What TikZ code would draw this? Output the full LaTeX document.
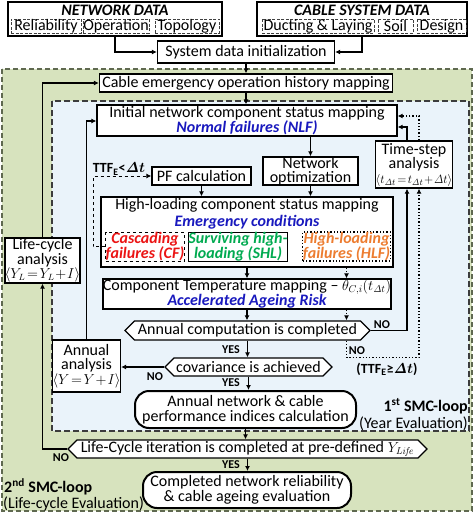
\documentclass[tikz,border=0pt]{standalone}
\usepackage{bm}
\usepackage[no-math]{fontspec}
\setmainfont{Carlito}
\usetikzlibrary{arrows.meta,shapes.symbols,calc}
\definecolor{greenbg}{RGB}{215,227,190}
\definecolor{greenln}{RGB}{95,105,80}
\definecolor{bluebg}{RGB}{234,243,250}
\definecolor{blueln}{RGB}{60,60,60}
\definecolor{nblue}{RGB}{25,25,190}
\definecolor{nred}{RGB}{235,20,20}
\definecolor{ngreen}{RGB}{0,170,80}
\definecolor{norange}{RGB}{237,125,49}
\newcommand\mainfs{\fontsize{16}{14.5}\selectfont}
\newcommand\lblfs{\fontsize{12}{12}\selectfont}
\newcommand\ttffs{\fontsize{14}{14}\selectfont}
\newcommand\mfs[1]{\fontsize{#1}{14}\selectfont}
\newcommand\dt{\mathit{\Delta} t}
\begin{document}
\begin{tikzpicture}[x=1pt,y=-1pt,font=\mainfs,
  box/.style={draw,line width=1.3pt,fill=white,inner sep=0pt,align=center},
  rbox/.style={draw,line width=2pt,fill=white,inner sep=0pt,align=center,rounded corners=14pt},
  sub/.style={draw,line width=0.7pt,inner sep=0pt,dash pattern=on 3pt off 1.5pt,draw=black!75},
  dec/.style={signal,signal to=east and west,signal pointer angle=90,draw,line width=1.3pt,fill=white,inner sep=0pt},
  arr/.style={line width=1.3pt,-{Latex[length=5pt,width=5pt]}},
  lbl/.style={font=\lblfs\bfseries,inner sep=0pt},
  hl/.style={font=\mainfs\bfseries\itshape}]
\useasboundingbox (0,0) rectangle (474,513);
% regions
\draw[fill=greenbg,draw=greenln,line width=1.5pt,dash pattern=on 5pt off 3pt] (2,69) rectangle (472,511);
\draw[fill=bluebg,draw=blueln,line width=1.2pt,dash pattern=on 6pt off 3pt] (52,101) rectangle (469,431);
% data boxes
\node[box,minimum width=214pt,minimum height=34pt] (nd) at (115,19) {};
\node[hl,inner sep=0pt] (ndt) at (115,10) {NETWORK DATA};
\node[sub,minimum width=70pt,minimum height=14pt] (rel) at (46,26) {Reliability};
\node[sub,minimum width=66pt,minimum height=14pt] (op) at (116,26) {Operation};
\node[sub,minimum width=64pt,minimum height=14pt] (topo) at (187,26) {Topology};
\node[box,minimum width=210pt,minimum height=34pt] (cd) at (362,19) {};
\node[hl,inner sep=0pt] (cdt) at (362,10) {CABLE SYSTEM DATA};
\node[sub,minimum width=112pt,minimum height=14pt] (duct) at (318,26) {Ducting \& Laying};
\node[sub,minimum width=35pt,minimum height=14pt] (soil) at (395.5,26) {Soil};
\node[sub,minimum width=49pt,minimum height=14pt] (des) at (441.5,26) {Design};
% main chain
\node[box,minimum width=177pt,minimum height=22pt] (si) at (246,52) {System data initialization};
\node[box,minimum width=293pt,minimum height=18pt] (ce) at (246,83) {Cable emergency operation history mapping};
\node[box,minimum width=300pt,minimum height=31pt] (init) at (247,120.5) {Initial network component status mapping\\[-0.5pt]{\bfseries\itshape\color{nblue}Normal failures (NLF)}};
\node[box,minimum width=95pt,minimum height=28pt] (no) at (310.5,171) {Network\\optimization};
\node[box,minimum width=99pt,minimum height=18pt] (pf) at (201.5,176) {PF calculation};
\node[box,minimum width=292pt,minimum height=70pt] (hl) at (247,232) {};
\node[inner sep=0pt] (hlt) at (247,205) {High-loading component status mapping};
\node[hl,inner sep=0pt,text=nblue] (hle) at (247,222) {Emergency conditions};
\node[box,dashed,line width=1pt,minimum width=76pt,minimum height=29pt,text=nred,font=\mainfs\bfseries\itshape] (cf) at (145,246.5) {Cascading\\[-1pt]failures (CF)};
\node[box,line width=1pt,minimum width=92pt,minimum height=29pt,text=ngreen,font=\mainfs\bfseries\itshape] (shl) at (238,246.5) {Surviving high-\\[-1pt]loading (SHL)};
\node[box,dotted,line width=1.2pt,minimum width=83pt,minimum height=29pt,text=norange,font=\mainfs\bfseries\itshape] (hlf) at (346.5,246.5) {High-loading\\[-1pt]failures (HLF)};
\node[box,minimum width=288pt,minimum height=30pt] (comp) at (247,294) {Component Temperature mapping -- {\mfs{14.5}$\theta_{C,i}(t_{\dt})$}\\[-1pt]{\bfseries\itshape\color{nblue}Accelerated Ageing Risk}};
\node[dec,minimum width=245pt,minimum height=19pt] (ac) at (247.5,330.5) {Annual computation is completed};
\node[dec,minimum width=167pt,minimum height=18pt] (cov) at (248.5,367) {covariance is achieved};
\node[rbox,minimum width=221pt,minimum height=37pt] (an) at (245.5,409.5) {Annual network \& cable\\performance indices calculation};
\node[dec,minimum width=359pt,minimum height=18pt] (lc) at (247.5,449) {Life-Cycle iteration is completed at pre-defined {\mfs{14}$Y_{\mathit{Life}}$}};
\node[rbox,minimum width=208pt,minimum height=36pt] (c2) at (247,490) {Completed network reliability\\\& cable ageing evaluation};
\node[box,minimum width=75pt,minimum height=45pt] (lca) at (42.5,260.5) {Life-cycle\\analysis\\{\mfs{13.5}$\langle Y_L\!=\!Y_L\!+\!I\rangle$}};
\node[box,minimum width=63pt,minimum height=52pt] (aa) at (86.5,366) {Annual\\analysis\\{\mfs{13.5}$\langle Y\!=\!Y\!+\!I\rangle$}};
\node[box,minimum width=76pt,minimum height=47pt] (ts) at (414,164.5) {Time-step\\analysis\\{\mfs{12.5}$\langle t_{\dt}\!=\!t_{\dt}\!+\!\dt\rangle$}};
% helper coordinates
\coordinate (sx) at (407,0);
\coordinate (dx) at (419,0);
\coordinate (sy) at (0,127);
\coordinate (dy) at (0,116);
\coordinate (iy) at (0,121);
% connectors
\draw[arr] (nd.south) |- (si.west);
\draw[arr] (cd.south) |- (si.east);
\draw[arr] (si.south) -- (si.south |- ce.north);
\draw[arr] (ce.south) -- (ce.south |- init.north);
\draw[arr] (init.south -| no.north) -- (no.north);
\draw[arr] (pf.south) -- (pf.south |- hl.north);
\draw[arr] (no.south) -- (no.south |- hl.north);
\draw[arr] (hl.south) -- (hl.south |- comp.north);
\draw[arr,dotted] (hl.south -| hlf.south) -- (comp.north -| hlf.south);
\draw[arr] (comp.south) -- (comp.south |- ac.north);
\draw[arr,dotted] (comp.south -| hlf.south) -- (ac.north -| hlf.south);
\draw[arr] (ac.south) -- (ac.south |- cov.north);
\draw[arr] (cov.south) -- (cov.south |- an.north);
\draw[arr] (an.south) -- (an.south |- lc.north);
\draw[arr] (lc.south) -- (lc.south |- c2.north);
\draw[arr] (ac.east) -| (ts.south -| sx);
\draw[arr] (ts.north -| sx) |- (init.east |- sy);
\draw[arr,dotted] (ac.south -| hlf.south) -- ++(0,17) -| (ts.south -| dx);
\draw[arr,dotted] (ts.north -| dx) |- (init.east |- dy);
\draw[arr] (cov.west) -- (cov.west -| aa.east);
\draw[arr] (aa.north) |- (init.west |- iy);
\draw[arr] (lc.west) -| (lca.south);
\draw[arr] (lca.north) |- (ce.west);
\draw[arr,dashed,line width=1pt] (cf.west) -- ++(-12,0) |- (pf.west);
% labels
\node[lbl] (y1) at (231,350) {YES};
\node[lbl] (y2) at (231,383) {YES};
\node[lbl] (y3) at (231,465) {YES};
\node[lbl] (n1) at (382,325) {NO};
\node[lbl] (n2) at (357,351) {NO};
\node[lbl] (n3) at (155,377) {NO};
\node[lbl] (n4) at (61,458) {NO};
\node[font=\ttffs\bfseries,inner sep=0pt] (ttf1) at (119,169) {TTF\textsubscript{E}<$\bm{\dt}$};
\node[font=\ttffs\bfseries,inner sep=0pt] (ttf2) at (387,369) {(TTF\textsubscript{E}≥$\bm{\dt}$)};
\node[font=\mainfs\bfseries,inner sep=0pt,anchor=east] (s1) at (468,406.5) {1\textsuperscript{st} SMC-loop};
\node[inner sep=0pt,anchor=east] (s1b) at (468,423.5) {(Year Evaluation)};
\node[font=\mainfs\bfseries,inner sep=0pt,anchor=west] (s2) at (4,486.5) {2\textsuperscript{nd} SMC-loop};
\node[inner sep=0pt,anchor=west] (s2b) at (3,503.5) {(Life-cycle Evaluation)};
\end{tikzpicture}
\end{document}
